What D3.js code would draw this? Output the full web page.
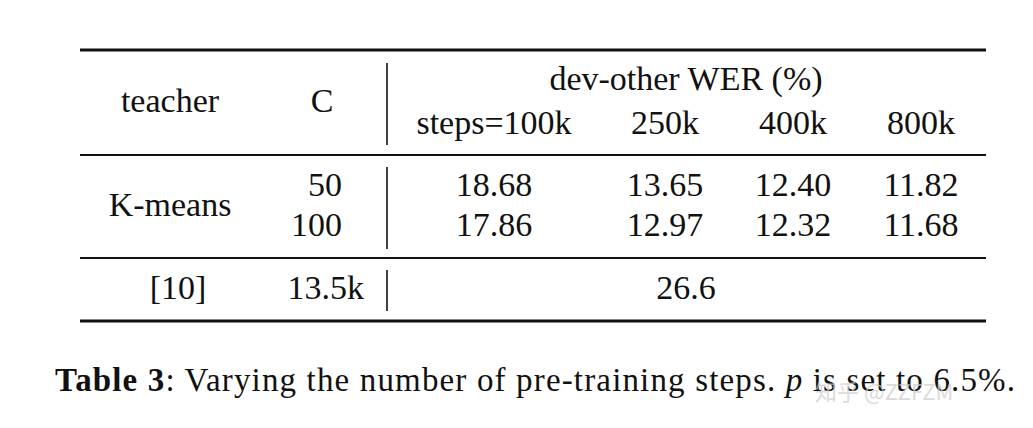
<!DOCTYPE html>
<html><head><meta charset="utf-8">
<script src="https://cdn.jsdelivr.net/npm/d3@7"></script>
<style>body{margin:0;background:#fff}text{font-family:"Liberation Serif","DejaVu Serif",serif;fill:#111}</style>
</head><body><svg id="t" width="1033" height="428"></svg>
<script>
const stepLabels = ["steps=100k", "250k", "400k", "800k"];
const kmeansC = ["50", "100"];
const kmeansWer = [["18.68", "13.65", "12.40", "11.82"], ["17.86", "12.97", "12.32", "11.68"]];
const baseline = {teacher: "[10]", c: "13.5k", wer: "26.6"};

const svg = d3.select("#t");
const fs = 34;
const colX = [494, 665, 793, 921];

function txt(x, y, s, anchor = "middle", weight = "normal") {
  return svg.append("text").attr("x", x).attr("y", y).attr("text-anchor", anchor)
    .attr("font-size", fs).attr("font-weight", weight).text(s);
}
function hline(y, w) {
  svg.append("line").attr("x1", 80).attr("x2", 986).attr("y1", y).attr("y2", y)
    .attr("stroke", "#111").attr("stroke-width", w);
}
function vline(y1, y2) {
  svg.append("line").attr("x1", 387).attr("x2", 387).attr("y1", y1).attr("y2", y2)
    .attr("stroke", "#111").attr("stroke-width", 1.6);
}

hline(50, 3); hline(155, 1.8); hline(258, 1.8); hline(321, 3);
vline(63, 145); vline(167, 249); vline(270, 311);

txt(170, 112, "teacher");
txt(322, 112, "C");
txt(686, 90, "dev-other WER (%)");
stepLabels.forEach((s, i) => txt(colX[i], 134, s));

txt(170, 216, "K-means");
kmeansC.forEach((c, r) => {
  const y = 196 + r * 40;
  txt(342, y, c, "end");
  kmeansWer[r].forEach((v, i) => txt(colX[i], y, v));
});

txt(178, 299, baseline.teacher);
txt(364, 299, baseline.c, "end");
txt(686, 299, baseline.wer);

const cap = svg.append("text").attr("x", 55).attr("y", 391).attr("font-size", 33)
  .attr("textLength", 960).attr("lengthAdjust", "spacing");
cap.append("tspan").attr("font-weight", "bold").text("Table 3");
cap.append("tspan").text(": Varying the number of pre-training steps. ");
cap.append("tspan").attr("font-style", "italic").text("p");
cap.append("tspan").text(" is set to 6.5%.");

svg.append("text").attr("x", 815).attr("y", 400).attr("font-size", 22)
  .style("font-family", "'Noto Sans CJK SC',sans-serif").style("fill", "#ccc").attr("opacity", 0.7)
  .text("知乎 @ZZFZM");
</script></body></html>
